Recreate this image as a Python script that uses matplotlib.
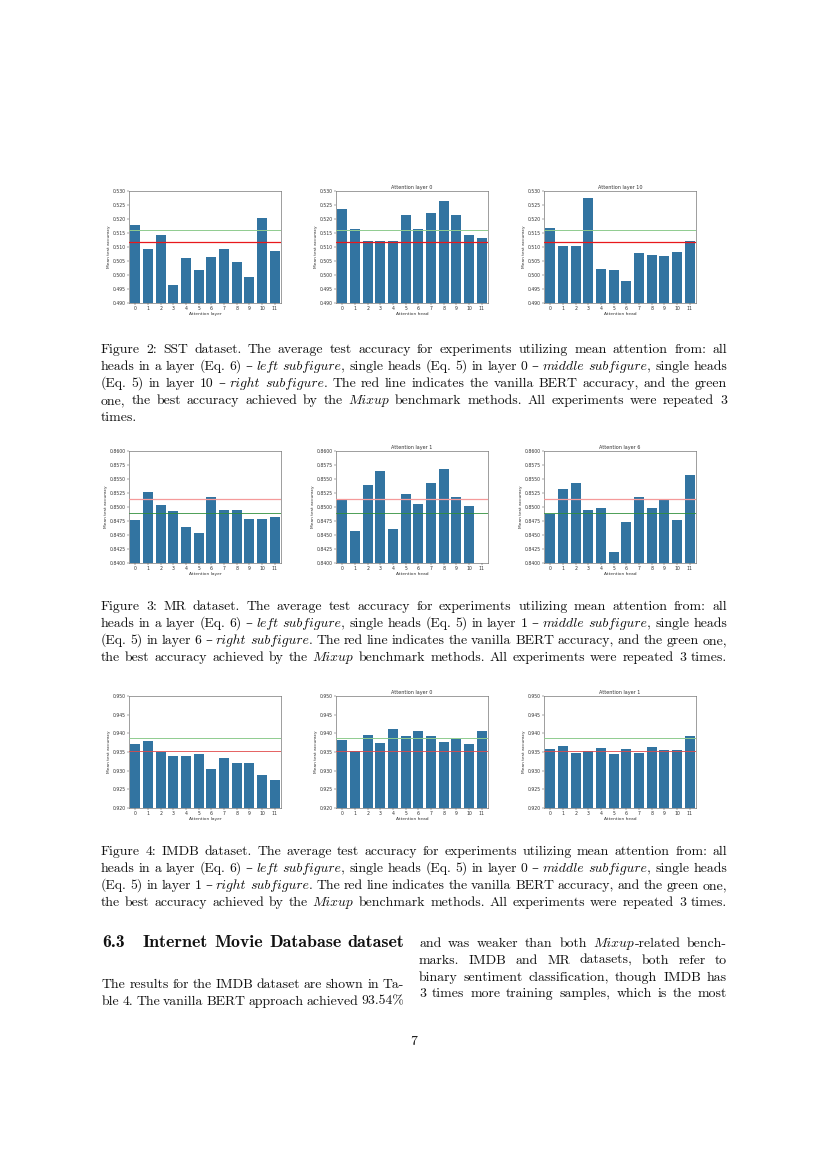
import numpy as np
import matplotlib
matplotlib.use('Agg')
import matplotlib.pyplot as plt

# ---- data ----
heads = list(range(12))

sst_layers = [0.5177, 0.5094, 0.5144, 0.4965, 0.5060, 0.5019, 0.5063, 0.5092, 0.5046, 0.4993, 0.5203, 0.5084]
sst_layer0 = [0.5236, 0.5163, 0.5123, 0.5121, 0.5123, 0.5216, 0.5163, 0.5222, 0.5264, 0.5213, 0.5144, 0.5133]
sst_layer10 = [0.5168, 0.5104, 0.5103, 0.5276, 0.5020, 0.5018, 0.4977, 0.5078, 0.5071, 0.5067, 0.5082, 0.5121]
sst_vanilla, sst_mixup = 0.5117, 0.5159

mr_layers = [0.8477, 0.8527, 0.8504, 0.8492, 0.8465, 0.8454, 0.8518, 0.8495, 0.8495, 0.8479, 0.8479, 0.8483]
mr_layer1 = [0.8514, 0.8458, 0.8540, 0.8564, 0.8461, 0.8524, 0.8505, 0.8543, 0.8567, 0.8518, 0.8502, np.nan]
mr_layer6 = [0.8487, 0.8532, 0.8543, 0.8495, 0.8498, 0.8419, 0.8474, 0.8518, 0.8498, 0.8512, 0.8476, 0.8558]
mr_vanilla, mr_mixup = 0.8514, 0.8490

imdb_layers = [0.9372, 0.9379, 0.9351, 0.9338, 0.9338, 0.9345, 0.9305, 0.9335, 0.9321, 0.9320, 0.9288, 0.9275]
imdb_layer0 = [0.9381, 0.9353, 0.9396, 0.9374, 0.9412, 0.9392, 0.9407, 0.9393, 0.9377, 0.9386, 0.9371, 0.9405]
imdb_layer1 = [0.9359, 0.9365, 0.9346, 0.9352, 0.9362, 0.9344, 0.9358, 0.9348, 0.9364, 0.9355, 0.9355, 0.9392]
imdb_vanilla, imdb_mixup = 0.9354, 0.9388

sst_ticks = [0.490, 0.495, 0.500, 0.505, 0.510, 0.515, 0.520, 0.525, 0.530]
mr_ticks = [0.8400, 0.8425, 0.8450, 0.8475, 0.8500, 0.8525, 0.8550, 0.8575, 0.8600]
imdb_ticks = [0.920, 0.925, 0.930, 0.935, 0.940, 0.945, 0.950]

cap2 = ["Figure 2: SST dataset. The average test accuracy for experiments utilizing mean attention from: all",
        "heads in a layer (Eq. 6) – *left subfigure*, single heads (Eq. 5) in layer 0 – *middle subfigure*, single heads",
        "(Eq. 5) in layer 10 – *right subfigure*. The red line indicates the vanilla BERT accuracy, and the green",
        "one, the best accuracy achieved by the *Mixup* benchmark methods. All experiments were repeated 3",
        "times."]
cap3 = ["Figure 3: MR dataset. The average test accuracy for experiments utilizing mean attention from: all",
        "heads in a layer (Eq. 6) – *left subfigure*, single heads (Eq. 5) in layer 1 – *middle subfigure*, single heads",
        "(Eq. 5) in layer 6 – *right subfigure*. The red line indicates the vanilla BERT accuracy, and the green one,",
        "the best accuracy achieved by the *Mixup* benchmark methods. All experiments were repeated 3 times."]
cap4 = ["Figure 4: IMDB dataset. The average test accuracy for experiments utilizing mean attention from: all",
        "heads in a layer (Eq. 6) – *left subfigure*, single heads (Eq. 5) in layer 0 – *middle subfigure*, single heads",
        "(Eq. 5) in layer 1 – *right subfigure*. The red line indicates the vanilla BERT accuracy, and the green one,",
        "the best accuracy achieved by the *Mixup* benchmark methods. All experiments were repeated 3 times."]
left_col = ["The results for the IMDB dataset are shown in Ta-",
            "ble 4. The vanilla BERT approach achieved 93.54%"]
right_col = ["and was weaker than both *Mixup*-related bench-",
             "marks. IMDB and MR datasets, both refer to",
             "binary sentiment classification, though IMDB has",
             "3 times more training samples, which is the most"]

W, H = 827, 1169
BAR = '#3274a1'
RM = ['cmr10', 'DejaVu Serif']
IT = ['cmmi10', 'DejaVu Serif']
BF = ['cmb10', 'DejaVu Serif']
PX = 100 / 72  # pixels per point

fig = plt.figure(figsize=(W / 100, H / 100), dpi=100)
renderer = fig.canvas.get_renderer()


def px_axes(x0, y0, x1, y1):
    return fig.add_axes([x0 / W, 1 - y1 / H, (x1 - x0) / W, (y1 - y0) / H])


def bar_panel(box, vals, ticks, fmt, red, green, red_style, green_style, xlabel, title=None):
    ax = px_axes(*box)
    ax.bar(heads, vals, width=0.8, color=BAR, zorder=2)
    ax.axhline(green, zorder=3, **green_style)
    ax.axhline(red, zorder=4, **red_style)
    ax.set_xlim(-0.5, 11.5)
    ax.set_ylim(ticks[0], ticks[-1])
    ax.set_yticks(ticks)
    ax.set_yticklabels([fmt % t for t in ticks])
    ax.set_xticks(heads)
    ax.tick_params(labelsize=3.3, length=1.3, width=0.3, pad=1, colors='#333')
    ax.set_xlabel(xlabel, fontsize=3.2, labelpad=0.8, color='#333')
    ax.set_ylabel('Mean test accuracy', fontsize=3.2, labelpad=1.5, color='#333')
    if title:
        ax.set_title(title, fontsize=3.5, pad=1.5, color='#333')
    for s in ax.spines.values():
        s.set_linewidth(0.4)
        s.set_color('#555')
    return ax


cols = [(129, 281), (336, 488), (544, 696)]
rows = [(191, 303), (451, 563), (696, 808)]

# SST
red_a = dict(color='#e8191c', lw=0.9)
green_a = dict(color='#8fcc8f', lw=0.7)
bar_panel((cols[0][0], rows[0][0], cols[0][1], rows[0][1]), sst_layers, sst_ticks, '%.3f',
          sst_vanilla, sst_mixup, red_a, green_a, 'Attention layer')
bar_panel((cols[1][0], rows[0][0], cols[1][1], rows[0][1]), sst_layer0, sst_ticks, '%.3f',
          sst_vanilla, sst_mixup, red_a, green_a, 'Attention head', 'Attention layer 0')
bar_panel((cols[2][0], rows[0][0], cols[2][1], rows[0][1]), sst_layer10, sst_ticks, '%.3f',
          sst_vanilla, sst_mixup, red_a, green_a, 'Attention head', 'Attention layer 10')

# MR
red_b = dict(color='#f59a9a', lw=0.9)
green_b = dict(color='#2f8f3a', lw=0.6)
bar_panel((cols[0][0], rows[1][0], cols[0][1], rows[1][1]), mr_layers, mr_ticks, '%.4f',
          mr_vanilla, mr_mixup, red_b, green_b, 'Attention layer')
bar_panel((cols[1][0], rows[1][0], cols[1][1], rows[1][1]), mr_layer1, mr_ticks, '%.4f',
          mr_vanilla, mr_mixup, red_b, green_b, 'Attention head', 'Attention layer 1')
bar_panel((cols[2][0], rows[1][0], cols[2][1], rows[1][1]), mr_layer6, mr_ticks, '%.4f',
          mr_vanilla, mr_mixup, red_b, green_b, 'Attention head', 'Attention layer 6')

# IMDB
red_c = dict(color='#e04848', lw=0.6)
green_c = dict(color='#8fcc8f', lw=0.7)
bar_panel((cols[0][0], rows[2][0], cols[0][1], rows[2][1]), imdb_layers, imdb_ticks, '%.3f',
          imdb_vanilla, imdb_mixup, red_c, green_c, 'Attention layer')
bar_panel((cols[1][0], rows[2][0], cols[1][1], rows[2][1]), imdb_layer0, imdb_ticks, '%.3f',
          imdb_vanilla, imdb_mixup, red_c, green_c, 'Attention head', 'Attention layer 0')
bar_panel((cols[2][0], rows[2][0], cols[2][1], rows[2][1]), imdb_layer1, imdb_ticks, '%.3f',
          imdb_vanilla, imdb_mixup, red_c, green_c, 'Attention head', 'Attention layer 1')


# ---- justified text, one word at a time ----
def parse(line):
    words, italic = [], False
    for w in line.split(' '):
        pieces = []
        for i, p in enumerate(w.split('*')):
            if i > 0:
                italic = not italic
            if p:
                pieces.append((p, italic))
        words.append(pieces)
    return words


def word_widths(line, size, fam=None):
    out = []
    for w in parse(line):
        total = 0.0
        for txt, it in w:
            f = fam if fam else (IT if it else RM)
            t = fig.text(0, 0, txt, fontsize=size, family=f)
            total += t.get_window_extent(renderer).width
            t.remove()
        out.append(total)
    return out


def put_line(x0, x1, y, line, size, justify=True, fam=None):
    words = parse(line)
    placed, widths = [], []
    for w in words:
        pieces, total = [], 0.0
        for txt, it in w:
            f = fam if fam else (IT if it else RM)
            t = fig.text(0, 1 - y / H, txt, fontsize=size, family=f, va='baseline', ha='left', color='#111')
            pieces.append((t, total))
            total += t.get_window_extent(renderer).width
        placed.append(pieces)
        widths.append(total)
    if justify and len(words) > 1:
        gap = (x1 - x0 - sum(widths)) / (len(words) - 1)
    else:
        gap = size * PX * 0.333
    x = x0
    for pieces, wd in zip(placed, widths):
        for t, off in pieces:
            t.set_x((x + off) / W)
        x += wd + gap


def put_block(lines, x0, x1, y0, step, size, last_justified=True):
    for i, ln in enumerate(lines):
        just = last_justified or i < len(lines) - 1
        put_line(x0, x1, y0 + i * step, ln, size, justify=just)


# font size chosen so full caption lines sit near natural word spacing
fits = []
for ln in cap2[:4] + cap3 + cap4:
    ww = word_widths(ln, 10)
    fits.append(625 / (sum(ww) / 10 + (len(ww) - 1) * 0.36 * PX))
body = float(np.median(fits))

put_block(cap2, 101, 727, 353, 17, body, last_justified=False)
put_block(cap3, 101, 727, 610, 17, body)
put_block(cap4, 101, 727, 855, 17, body)

# section heading
hw = word_widths('Internet Movie Database dataset', 10, fam=BF)
head = 261 / (sum(hw) / 10 + 3 * 0.36 * PX)
put_line(102, 140, 947, '6.3', head, justify=False, fam=BF)
put_line(143, 404, 947, 'Internet Movie Database dataset', head, justify=True, fam=BF)

put_block(left_col, 102, 404, 988, 16.8, body)
put_block(right_col, 419, 727, 947, 16.8, body)

fig.text(414 / W, 1 - 1045 / H, '7', fontsize=body, family=RM, ha='center', va='baseline', color='#111')

fig.savefig('out.png', dpi=100)
